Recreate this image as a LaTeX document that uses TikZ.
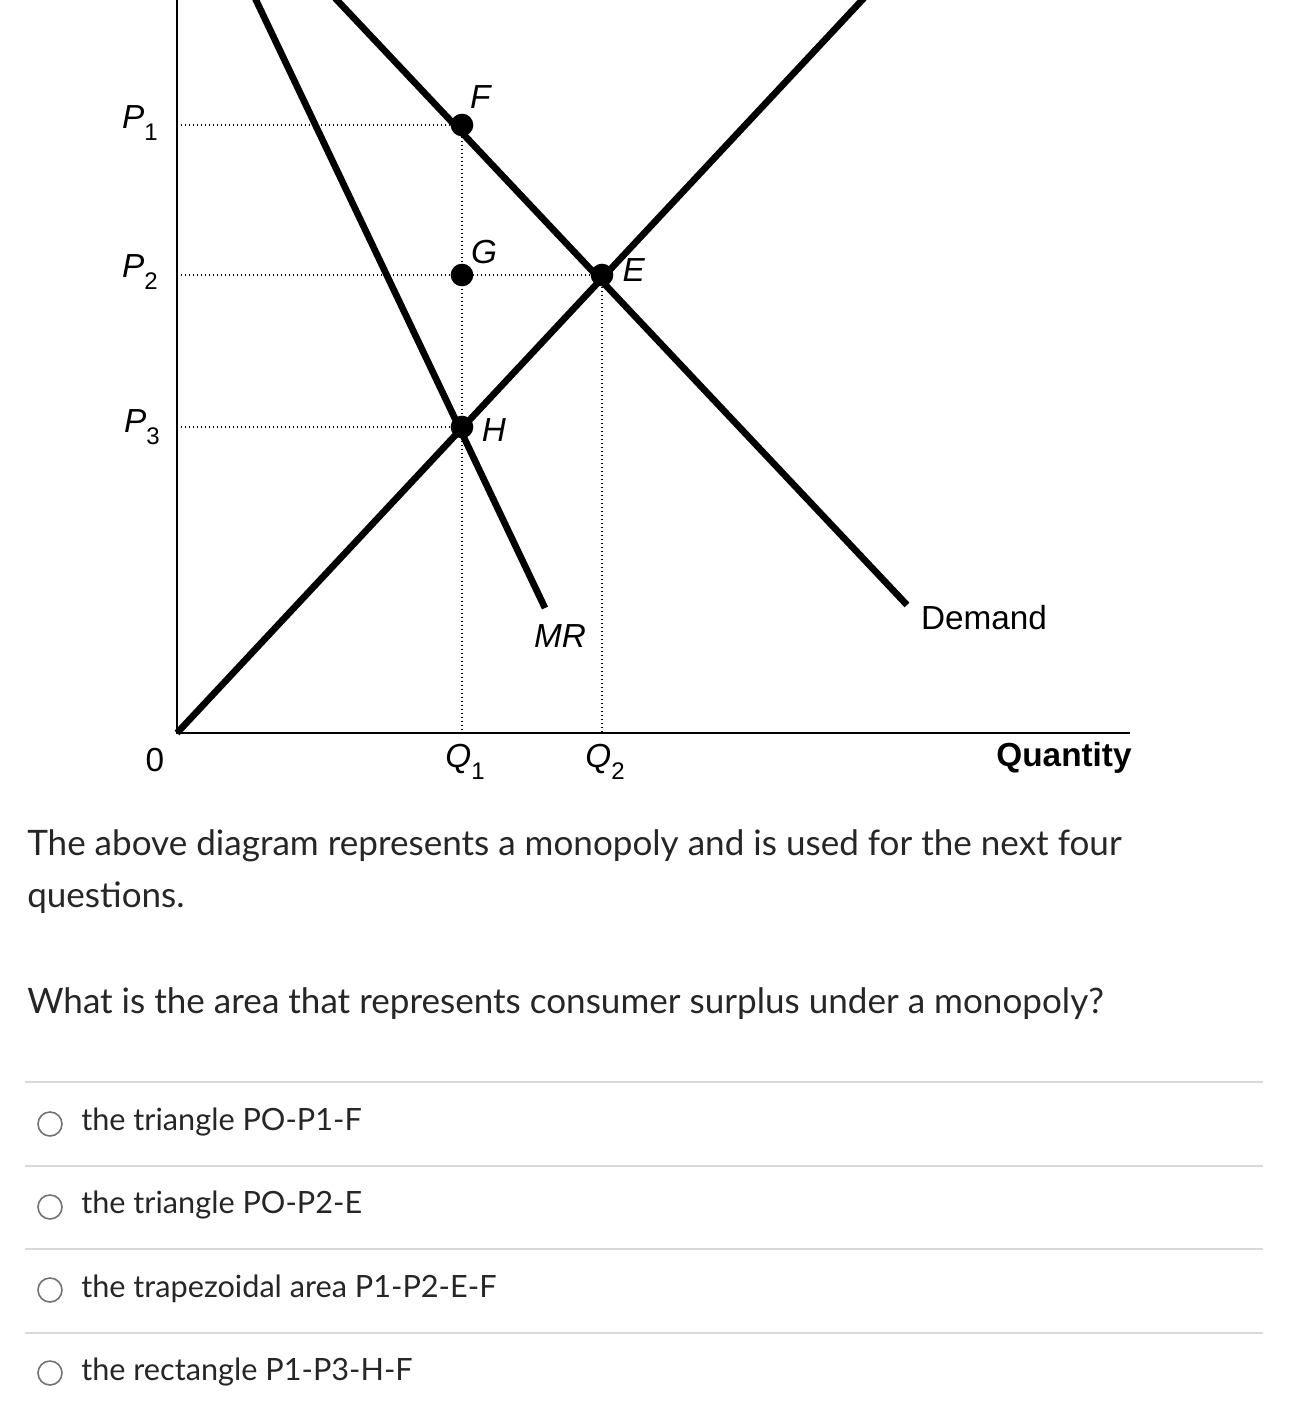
\documentclass[tikz,border=0pt]{standalone}
\usepackage{fontspec}
\setmainfont{Lato}
\newfontfamily\arial{Liberation Sans}
\newcommand{\lsub}[1]{\raisebox{-0.35em}{\fontsize{18}{20}\selectfont #1}}
\begin{document}
\begin{tikzpicture}[x=0.75pt,y=-0.75pt,
  curve/.style={line width=5pt},
  guide/.style={dotted,line width=1pt},
  dot/.style={circle,fill=black,minimum size=17pt,inner sep=0pt},
  lab/.style={font=\arial\fontsize{25}{27}\selectfont},
  body/.style={font=\fontsize{26.3}{32}\selectfont,text=black!85,anchor=west,inner sep=0pt},
  opt/.style={font=\fontsize{23}{28}\selectfont,text=black!85,anchor=west,inner sep=0pt},
  radio/.style={circle,draw=black!55,line width=1.2pt,minimum size=18pt,inner sep=0pt},
  sep/.style={draw=black!15,line width=1pt}]
\useasboundingbox (0,0) rectangle (1292,1402);
\begin{scope}
\clip (0,0) rectangle (1292,1402);
\coordinate (O) at (177,733);
\coordinate (yt) at (177,0);
\coordinate (xe) at (1130,733);
\coordinate (dA) at (335,-2);
\coordinate (dB) at (907,605);
\coordinate (sA) at (177,733);
\coordinate (sB) at (864,-2);
\coordinate (mA) at (255,-2);
\coordinate (mB) at (545,608);
\coordinate (P1a) at (177,125);
\coordinate (P2a) at (177,275);
\coordinate (P3a) at (177,427);
\coordinate (Q1a) at (462,733);
\coordinate (Q2a) at (602,733);
\node[dot] (F) at (462,125) {};
\node[dot] (G) at (462,275) {};
\node[dot] (H) at (462,427) {};
\node[dot] (E) at (602,275) {};
\draw[guide] (P1a) -- (F.center);
\draw[guide] (P2a) -- (E.center);
\draw[guide] (P3a) -- (H.center);
\draw[guide] (F.center) -- (Q1a);
\draw[guide] (E.center) -- (Q2a);
\draw[line width=1.5pt] (yt) -- (O) -- (xe);
\draw[curve] (dA) -- (dB);
\draw[curve] (sA) -- (sB);
\draw[curve] (mA) -- (mB);
\end{scope}
\node[lab] (p1) at (140,123) {\textit{P}\lsub{1}};
\node[lab] (p2) at (140,272) {\textit{P}\lsub{2}};
\node[lab] (p3) at (142,427) {\textit{P}\lsub{3}};
\node[lab] (zero) at (155,760) {0};
\node[lab] (q1) at (465,762) {\textit{Q}\lsub{1}};
\node[lab] (q2) at (605,762) {\textit{Q}\lsub{2}};
\node[lab,font=\arial\bfseries\fontsize{25}{27}\selectfont] (qty) at (1064,758) {Quantity};
\node[lab] (dem) at (984,618) {Demand};
\node[lab] (mr) at (560,636) {\textit{MR}};
\node[lab] (fl) at (481,97) {\textit{F}};
\node[lab] (gl) at (484,252) {\textit{G}};
\node[lab] (el) at (634,270) {\textit{E}};
\node[lab] (hl) at (494,430) {\textit{H}};
\node[body] (t1) at (27,846) {The above diagram represents a monopoly and is used for the next four};
\node[body] (t2) at (27,898) {questions.};
\node[body] (t3) at (27,1004) {What is the area that represents consumer surplus under a monopoly?};
\draw[sep] (25,1082) -- (1263,1082);
\draw[sep] (25,1166) -- (1263,1166);
\draw[sep] (25,1249) -- (1263,1249);
\draw[sep] (25,1333) -- (1263,1333);
\node[radio] (r1) at (50,1124) {};
\node[radio] (r2) at (50,1207) {};
\node[radio] (r3) at (50,1290) {};
\node[radio] (r4) at (50,1373) {};
\node[opt] (o1) at (81,1122) {the triangle PO-P1-F};
\node[opt] (o2) at (81,1205) {the triangle PO-P2-E};
\node[opt] (o3) at (81,1289) {the trapezoidal area P1-P2-E-F};
\node[opt] (o4) at (81,1372) {the rectangle P1-P3-H-F};
\end{tikzpicture}
\end{document}
